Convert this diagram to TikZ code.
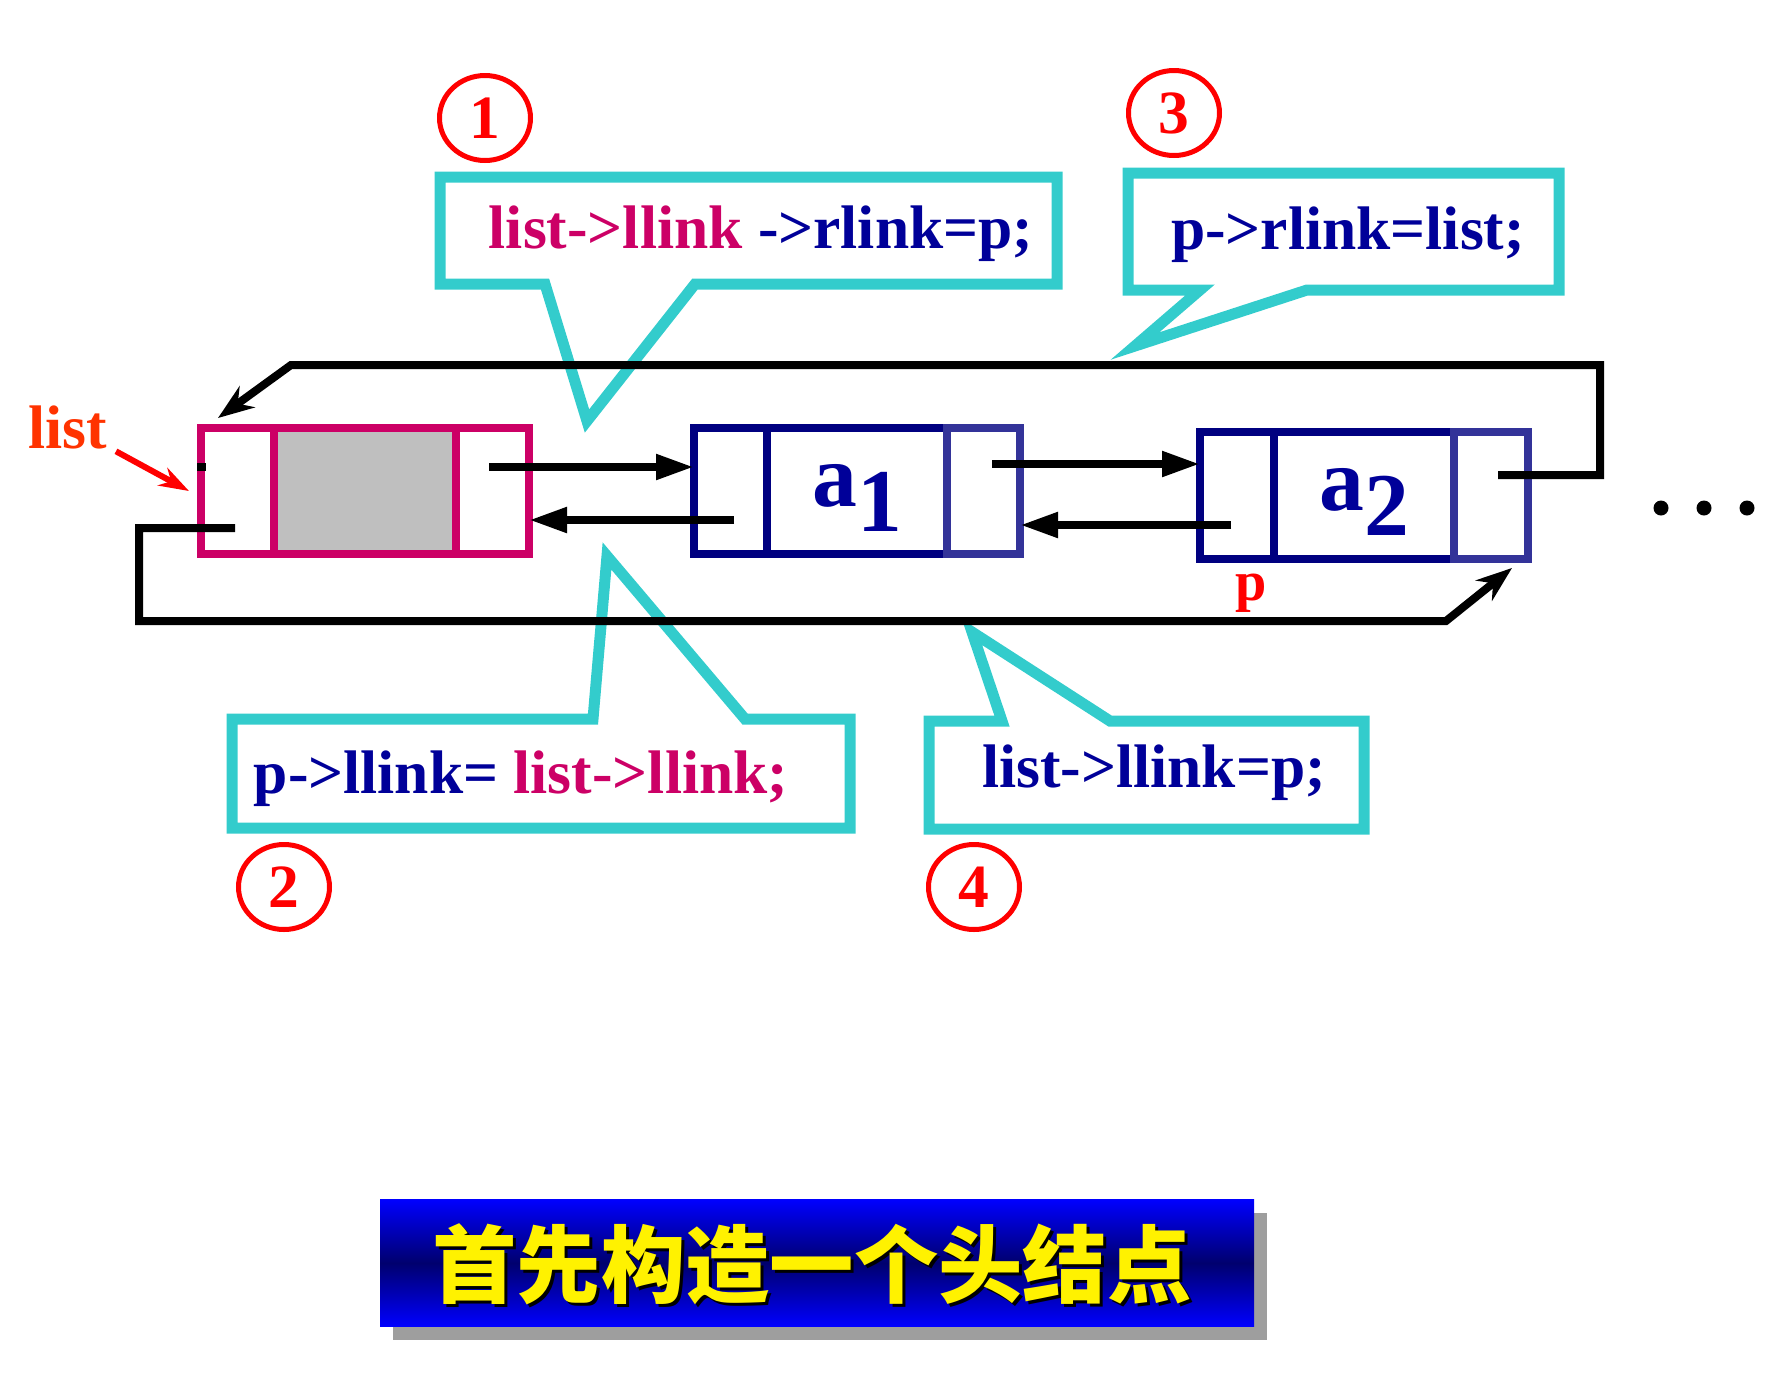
\documentclass[tikz,border=0pt]{standalone}
\usepackage{fontspec}
\setmainfont{Liberation Serif}
\newfontfamily\cjk{Noto Sans CJK SC}
\usetikzlibrary{arrows.meta,shapes.geometric,shadows}

\definecolor{headred}{HTML}{CC0066}
\definecolor{nodeblue}{HTML}{000080}
\definecolor{ptrblue}{HTML}{333399}
\definecolor{codeblue}{HTML}{000099}
\definecolor{tipcyan}{HTML}{33CCCC}
\definecolor{listred}{HTML}{FF3300}
\definecolor{bannerdark}{HTML}{00006E}

\begin{document}
\begin{tikzpicture}[
        x=0.1mm, y=-0.1mm,
        cell/.style={rectangle, draw=nodeblue, line width=0.75mm, inner sep=0pt, outer sep=0pt, minimum width=7.3mm, minimum height=12.6mm},
        headcell/.style={cell, draw=headred},
        ptrcell/.style={cell, draw=ptrblue},
        datacell/.style={cell, minimum width=18mm, text=codeblue, text height=5mm, text depth=2mm, font=\fontsize{25.5}{28}\selectfont\bfseries},
        link/.style={-{Triangle[length=3.8mm, width=2.4mm]}, line width=0.8mm},
        loopback/.style={-{Stealth[length=3.6mm, width=2.6mm]}, line width=0.8mm},
        callout/.style={draw=tipcyan, line width=1.1mm},
        code/.style={anchor=base, inner sep=0pt, font=\fontsize{17.5}{20}\selectfont\bfseries},
        num/.style={ellipse, draw=red, line width=0.5mm, text=red, inner sep=0pt, minimum width=9.1mm, minimum height=8.5mm, font=\fontsize{17.5}{20}\selectfont\bfseries},
        banner/.style={rectangle, inner sep=0pt, minimum width=87.4mm, minimum height=12.7mm, top color=blue, bottom color=blue, middle color=bannerdark, drop shadow={shadow xshift=1.3mm, shadow yshift=-1.3mm, fill=black!38, opacity=1}},
        bannertext/.style={inner sep=0pt, font=\cjk\bfseries\fontsize{24}{28}\selectfont}
    ]
    \useasboundingbox (0,0) rectangle (1790,1378);

    % === callouts ===
    \draw[callout] (440,177) -- (1057,177) -- (1057,284) -- (695,284) -- (587,421) -- (545,284) -- (440,284) -- cycle;
    \draw[callout] (232,719) -- (593,719) -- (607,556) -- (745,719) -- (850,719) -- (850,828) -- (232,828) -- cycle;
    \draw[callout] (1128,173) -- (1559,173) -- (1559,290) -- (1307,290) -- (1135,346) -- (1200,290) -- (1128,290) -- cycle;
    \draw[callout] (929,721) -- (1002,721) -- (972,632) -- (1110,721) -- (1364,721) -- (1364,829) -- (929,829) -- cycle;

    \node[code] (c1) at (761,248) {\textcolor{headred}{list->llink} \textcolor{codeblue}{->rlink=p;}};
    \node[code] (c2) at (521,793) {\textcolor{codeblue}{p->llink=} \textcolor{headred}{list->llink;}};
    \node[code, text=codeblue] (c3) at (1348,249) {p->rlink=list;};
    \node[code, text=codeblue] (c4) at (1154,787) {list->llink=p;};

    \node[num] (n1) at (485,118) {1};
    \node[num] (n2) at (284,887) {2};
    \node[num] (n3) at (1174,113) {3};
    \node[num] (n4) at (974,887) {4};

    % === head node ===
    \node[headcell] (hl) at (237.5,491) {};
    \node[headcell, fill=gray!50, minimum width=18.2mm] (hd) at (365,491) {};
    \node[headcell] (hr) at (492.5,491) {};

    \node[code, text=listred] (lst) at (68,448) {list};
    \draw[red, line width=0.6mm, -{Stealth[length=3mm, width=2mm]}] ([shift={(8,2)}]lst.south east) -- ([xshift=-1.2mm]hl.west);

    % === a1 and a2 ===
    \node[cell] (l1) at (730.5,491) {};
    \node[datacell] (d1) at (857,491) {a\raisebox{-2.5mm}{1}};
    \node[ptrcell] (r1) at (983.5,491) {};

    \node[cell, minimum width=7.4mm, minimum height=12.7mm] (l2) at (1237,495.5) {};
    \node[datacell, minimum height=12.7mm] (d2) at (1364,495.5) {a\raisebox{-2.5mm}{2}};
    \node[ptrcell, minimum width=7.4mm, minimum height=12.7mm] (r2) at (1491,495.5) {};

    \node[code, text=red, font=\fontsize{16}{18}\selectfont\bfseries] (plbl) at (1251,600) {p};
    \foreach \x in {1661,1704,1747} \fill (\x,508) circle (7.5);

    % === links ===
    \coordinate (hnext) at (489,467);
    \coordinate (hprev) at (235,528);
    \coordinate (next1) at (992,464);
    \coordinate (prev1) at (734,520);
    \coordinate (next2) at (1498,475);
    \coordinate (prev2) at (1231,525);

    \draw[link] (hnext) -- (hnext -| l1.west);
    \draw[link] (prev1) -- (prev1 -| hr.east);
    \draw[link] (next1) -- (next1 -| l2.west);
    \draw[link] (prev2) -- (prev2 -| r1.east);
    \draw[loopback] (next2) -- (1600,475) -- (1600,365) -- (291,365) -- ([shift={(17,-10)}]hl.north west);
    \draw[loopback] (hprev) -- (139,528) -- (139,621) -- (1446,621) -- ([shift={(21,9)}]r2.south);
    \draw[line width=0.8mm] (197,467) -- (206,467);

    % === title ===
    \node[banner] (title) at (817,1263) {};
    \node[bannertext, text=black] (ttlshadow) at ([shift={(-2,4)}]title.center) {首先构造一个头结点};
    \node[bannertext, text=yellow] (ttl) at ([shift={(-5,1)}]title.center) {首先构造一个头结点};
\end{tikzpicture}
\end{document}
